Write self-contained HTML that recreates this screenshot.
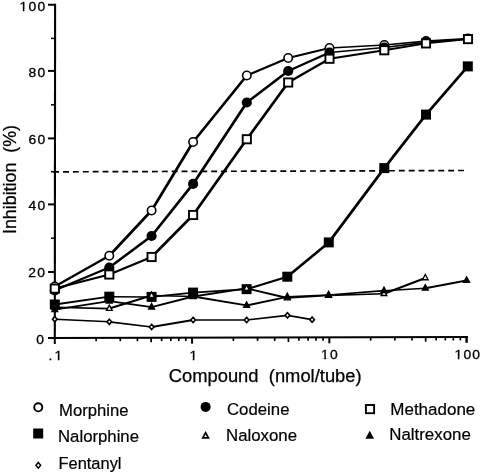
<!DOCTYPE html><html><head><meta charset="utf-8"><title>Inhibition chart</title>
<style>html,body{margin:0;padding:0;background:#fff}svg{display:block}text{font-family:"Liberation Sans",Arial,Helvetica,sans-serif;fill:#000}</style></head><body>
<svg width="480" height="474" viewBox="0 0 480 474">
<rect width="480" height="474" fill="#fff"/>
<g stroke="#000" stroke-width="2" fill="none" stroke-linecap="butt">
<path d="M55.1,3.75 L54.8,339" stroke-width="2.1"/>
<path d="M48,338 L467.9,337" stroke-width="1.85"/>
<path d="M48,338.00 H55"/>
<path d="M48,272.00 H55"/>
<path d="M48,204.40 H55"/>
<path d="M48,138.40 H55"/>
<path d="M48,70.90 H55"/>
<path d="M48,4.75 H55"/>
<path d="M51,305.00 H55" stroke-width="1.5"/>
<path d="M51,238.20 H55" stroke-width="1.5"/>
<path d="M51,171.70 H55" stroke-width="1.5"/>
<path d="M51,104.80 H55" stroke-width="1.5"/>
<path d="M51,38.40 H55" stroke-width="1.5"/>
<path d="M54.80,337.98 V343.98"/>
<path d="M96.12,337.89 V341.29" stroke-width="1.7"/>
<path d="M120.29,337.83 V341.23" stroke-width="1.7"/>
<path d="M137.44,337.79 V341.19" stroke-width="1.7"/>
<path d="M151.15,337.76 V342.36" stroke-width="1.7"/>
<path d="M161.62,337.73 V341.13" stroke-width="1.7"/>
<path d="M170.81,337.71 V341.11" stroke-width="1.7"/>
<path d="M178.77,337.69 V341.09" stroke-width="1.7"/>
<path d="M185.79,337.67 V341.07" stroke-width="1.7"/>
<path d="M192.07,337.66 V343.66"/>
<path d="M233.39,337.56 V340.96" stroke-width="1.7"/>
<path d="M257.56,337.50 V340.90" stroke-width="1.7"/>
<path d="M274.71,337.46 V340.86" stroke-width="1.7"/>
<path d="M288.42,337.43 V342.03" stroke-width="1.7"/>
<path d="M298.89,337.40 V340.80" stroke-width="1.7"/>
<path d="M308.08,337.38 V340.78" stroke-width="1.7"/>
<path d="M316.04,337.36 V340.76" stroke-width="1.7"/>
<path d="M323.06,337.35 V340.75" stroke-width="1.7"/>
<path d="M329.34,337.33 V343.33"/>
<path d="M370.66,337.23 V340.63" stroke-width="1.7"/>
<path d="M394.83,337.17 V340.57" stroke-width="1.7"/>
<path d="M411.98,337.13 V340.53" stroke-width="1.7"/>
<path d="M425.69,337.10 V341.70" stroke-width="1.7"/>
<path d="M436.16,337.08 V340.48" stroke-width="1.7"/>
<path d="M445.35,337.05 V340.45" stroke-width="1.7"/>
<path d="M453.31,337.03 V340.43" stroke-width="1.7"/>
<path d="M460.33,337.02 V340.42" stroke-width="1.7"/>
<path d="M466.61,336.00 V342.80" stroke-width="2.4"/>
</g>
<path d="M53.2,171.85 L464.6,170.5" stroke="#000" stroke-width="1.7" stroke-dasharray="5.9 3.975" fill="none"/>
<g fill="none" stroke="#000" stroke-linecap="round"><path d="M54.80,286.50 L109.30,255.75" stroke-width="2.41"/><path d="M109.30,255.75 L151.60,210.50" stroke-width="2.67"/><path d="M151.60,210.50 L193.10,142.00" stroke-width="2.70"/><path d="M193.10,142.00 L246.80,75.50" stroke-width="2.69"/><path d="M246.80,75.50 L288.20,58.00" stroke-width="2.26"/><path d="M288.20,58.00 L329.50,48.00" stroke-width="1.99"/><path d="M329.50,48.00 L384.30,45.00" stroke-width="1.62"/><path d="M384.30,45.00 L426.00,41.10" stroke-width="1.70"/><path d="M426.00,41.10 L468.00,38.60" stroke-width="1.63"/></g>
<circle cx="54.80" cy="286.50" r="4.2" fill="#fff" stroke="#000" stroke-width="1.6"/><circle cx="109.30" cy="255.75" r="4.2" fill="#fff" stroke="#000" stroke-width="1.6"/><circle cx="151.60" cy="210.50" r="4.2" fill="#fff" stroke="#000" stroke-width="1.6"/><circle cx="193.10" cy="142.00" r="4.2" fill="#fff" stroke="#000" stroke-width="1.6"/><circle cx="246.80" cy="75.50" r="4.2" fill="#fff" stroke="#000" stroke-width="1.6"/><circle cx="288.20" cy="58.00" r="4.2" fill="#fff" stroke="#000" stroke-width="1.6"/><circle cx="329.50" cy="48.00" r="4.2" fill="#fff" stroke="#000" stroke-width="1.6"/><circle cx="384.30" cy="45.00" r="4.2" fill="#fff" stroke="#000" stroke-width="1.6"/><circle cx="426.00" cy="41.10" r="4.2" fill="#fff" stroke="#000" stroke-width="1.6"/><circle cx="468.00" cy="38.60" r="4.2" fill="#fff" stroke="#000" stroke-width="1.6"/>
<g fill="none" stroke="#000" stroke-linecap="round"><path d="M54.80,290.30 L109.30,267.50" stroke-width="2.25"/><path d="M109.30,267.50 L151.60,236.00" stroke-width="2.55"/><path d="M151.60,236.00 L193.10,183.90" stroke-width="2.69"/><path d="M193.10,183.90 L246.80,102.50" stroke-width="2.70"/><path d="M246.80,102.50 L288.20,71.00" stroke-width="2.56"/><path d="M288.20,71.00 L329.50,52.50" stroke-width="2.29"/><path d="M329.50,52.50 L384.30,47.50" stroke-width="1.70"/><path d="M384.30,47.50 L426.00,42.40" stroke-width="1.76"/><path d="M426.00,42.40 L468.00,39.00" stroke-width="1.68"/></g>
<circle cx="54.80" cy="290.30" r="5.1" fill="#000"/><circle cx="109.30" cy="267.50" r="5.1" fill="#000"/><circle cx="151.60" cy="236.00" r="5.1" fill="#000"/><circle cx="193.10" cy="183.90" r="5.1" fill="#000"/><circle cx="246.80" cy="102.50" r="5.1" fill="#000"/><circle cx="288.20" cy="71.00" r="5.1" fill="#000"/><circle cx="329.50" cy="52.50" r="5.1" fill="#000"/><circle cx="384.30" cy="47.50" r="5.1" fill="#000"/><circle cx="426.00" cy="42.40" r="5.1" fill="#000"/><circle cx="468.00" cy="39.00" r="5.1" fill="#000"/>
<g fill="none" stroke="#000" stroke-linecap="round"><path d="M54.80,288.60 L109.30,274.50" stroke-width="2.02"/><path d="M109.30,274.50 L151.60,257.00" stroke-width="2.25"/><path d="M151.60,257.00 L193.10,215.00" stroke-width="2.65"/><path d="M193.10,215.00 L246.80,139.25" stroke-width="2.70"/><path d="M246.80,139.25 L288.20,82.50" stroke-width="2.70"/><path d="M288.20,82.50 L329.50,58.75" stroke-width="2.42"/><path d="M329.50,58.75 L384.30,50.25" stroke-width="1.83"/><path d="M384.30,50.25 L426.00,43.40" stroke-width="1.84"/><path d="M426.00,43.40 L468.00,39.10" stroke-width="1.72"/></g>
<rect x="50.70" y="284.50" width="8.2" height="8.2" fill="#fff" stroke="#000" stroke-width="1.9"/><rect x="105.20" y="270.40" width="8.2" height="8.2" fill="#fff" stroke="#000" stroke-width="1.9"/><rect x="147.50" y="252.90" width="8.2" height="8.2" fill="#fff" stroke="#000" stroke-width="1.9"/><rect x="189.00" y="210.90" width="8.2" height="8.2" fill="#fff" stroke="#000" stroke-width="1.9"/><rect x="242.70" y="135.15" width="8.2" height="8.2" fill="#fff" stroke="#000" stroke-width="1.9"/><rect x="284.10" y="78.40" width="8.2" height="8.2" fill="#fff" stroke="#000" stroke-width="1.9"/><rect x="325.40" y="54.65" width="8.2" height="8.2" fill="#fff" stroke="#000" stroke-width="1.9"/><rect x="380.20" y="46.15" width="8.2" height="8.2" fill="#fff" stroke="#000" stroke-width="1.9"/><rect x="421.90" y="39.30" width="8.2" height="8.2" fill="#fff" stroke="#000" stroke-width="1.9"/><rect x="463.90" y="35.00" width="8.2" height="8.2" fill="#fff" stroke="#000" stroke-width="1.9"/>
<g fill="none" stroke="#000" stroke-linecap="round"><path d="M54.80,319.20 L109.30,321.80" stroke-width="1.61"/><path d="M109.30,321.80 L151.60,327.00" stroke-width="1.76"/><path d="M151.60,327.00 L193.10,320.00" stroke-width="1.85"/><path d="M193.10,320.00 L246.60,320.00" stroke-width="1.50"/><path d="M246.60,320.00 L287.50,315.30" stroke-width="1.75"/><path d="M287.50,315.30 L312.10,319.70" stroke-width="1.87"/></g>
<path d="M54.80,316.55 L57.10,319.20 L54.80,321.85 L52.50,319.20 Z" fill="#fff" stroke="#000" stroke-width="1.6"/><path d="M109.30,319.15 L111.60,321.80 L109.30,324.45 L107.00,321.80 Z" fill="#fff" stroke="#000" stroke-width="1.6"/><path d="M151.60,324.35 L153.90,327.00 L151.60,329.65 L149.30,327.00 Z" fill="#fff" stroke="#000" stroke-width="1.6"/><path d="M193.10,317.35 L195.40,320.00 L193.10,322.65 L190.80,320.00 Z" fill="#fff" stroke="#000" stroke-width="1.6"/><path d="M246.60,317.35 L248.90,320.00 L246.60,322.65 L244.30,320.00 Z" fill="#fff" stroke="#000" stroke-width="1.6"/><path d="M287.50,312.65 L289.80,315.30 L287.50,317.95 L285.20,315.30 Z" fill="#fff" stroke="#000" stroke-width="1.6"/><path d="M312.10,317.05 L314.40,319.70 L312.10,322.35 L309.80,319.70 Z" fill="#fff" stroke="#000" stroke-width="1.6"/>
<g fill="none" stroke="#000" stroke-linecap="round"><path d="M54.80,304.50 L109.30,296.70" stroke-width="1.80"/><path d="M109.30,296.70 L151.60,296.90" stroke-width="1.51"/><path d="M151.60,296.90 L193.10,292.60" stroke-width="1.72"/><path d="M193.10,292.60 L246.60,289.15" stroke-width="1.64"/><path d="M246.60,289.15 L287.30,276.70" stroke-width="2.09"/><path d="M287.30,276.70 L328.80,242.40" stroke-width="2.59"/><path d="M328.80,242.40 L384.30,168.10" stroke-width="2.70"/><path d="M384.30,168.10 L426.00,114.60" stroke-width="2.70"/><path d="M426.00,114.60 L467.80,66.40" stroke-width="2.68"/></g>
<rect x="49.80" y="299.50" width="10" height="10" fill="#000"/><rect x="104.30" y="291.70" width="10" height="10" fill="#000"/><rect x="146.60" y="291.90" width="10" height="10" fill="#000"/><rect x="188.10" y="287.60" width="10" height="10" fill="#000"/><rect x="241.60" y="284.15" width="10" height="10" fill="#000"/><rect x="282.30" y="271.70" width="10" height="10" fill="#000"/><rect x="323.80" y="237.40" width="10" height="10" fill="#000"/><rect x="379.30" y="163.10" width="10" height="10" fill="#000"/><rect x="421.00" y="109.60" width="10" height="10" fill="#000"/><rect x="462.80" y="61.40" width="10" height="10" fill="#000"/>
<g fill="none" stroke="#000" stroke-linecap="round"><path d="M54.80,307.20 L109.30,308.60" stroke-width="1.56"/><path d="M109.30,308.60 L151.60,295.50" stroke-width="2.10"/><path d="M151.60,295.50 L193.10,296.50" stroke-width="1.55"/><path d="M193.10,296.50 L246.60,288.40" stroke-width="1.82"/><path d="M246.60,288.40 L287.30,298.00" stroke-width="1.98"/><path d="M287.30,298.00 L328.60,295.40" stroke-width="1.64"/><path d="M328.60,295.40 L384.00,293.70" stroke-width="1.57"/><path d="M384.00,293.70 L425.30,277.95" stroke-width="2.20"/></g>
<path d="M54.80,303.73 L57.62,309.02 L51.98,309.02 Z" fill="#fff" stroke="#000" stroke-width="1.35" stroke-linejoin="miter" stroke-miterlimit="10"/><path d="M109.30,305.13 L112.12,310.42 L106.48,310.42 Z" fill="#fff" stroke="#000" stroke-width="1.35" stroke-linejoin="miter" stroke-miterlimit="10"/><path d="M151.60,292.03 L154.42,297.32 L148.78,297.32 Z" fill="#fff" stroke="#000" stroke-width="1.35" stroke-linejoin="miter" stroke-miterlimit="10"/><path d="M193.10,293.03 L195.92,298.32 L190.28,298.32 Z" fill="#fff" stroke="#000" stroke-width="1.35" stroke-linejoin="miter" stroke-miterlimit="10"/><path d="M246.60,284.93 L249.42,290.22 L243.78,290.22 Z" fill="#fff" stroke="#000" stroke-width="1.35" stroke-linejoin="miter" stroke-miterlimit="10"/><path d="M287.30,294.53 L290.12,299.82 L284.48,299.82 Z" fill="#fff" stroke="#000" stroke-width="1.35" stroke-linejoin="miter" stroke-miterlimit="10"/><path d="M328.60,291.93 L331.42,297.22 L325.78,297.22 Z" fill="#fff" stroke="#000" stroke-width="1.35" stroke-linejoin="miter" stroke-miterlimit="10"/><path d="M384.00,290.23 L386.82,295.52 L381.18,295.52 Z" fill="#fff" stroke="#000" stroke-width="1.35" stroke-linejoin="miter" stroke-miterlimit="10"/><path d="M425.30,274.48 L428.12,279.77 L422.48,279.77 Z" fill="#fff" stroke="#000" stroke-width="1.35" stroke-linejoin="miter" stroke-miterlimit="10"/>
<g fill="none" stroke="#000" stroke-linecap="round"><path d="M54.80,309.70 L109.30,301.20" stroke-width="1.83"/><path d="M109.30,301.20 L151.60,307.10" stroke-width="1.80"/><path d="M151.60,307.10 L193.10,296.50" stroke-width="2.01"/><path d="M193.10,296.50 L246.60,305.45" stroke-width="1.85"/><path d="M246.60,305.45 L287.30,296.90" stroke-width="1.93"/><path d="M287.30,296.90 L328.60,295.00" stroke-width="1.60"/><path d="M328.60,295.00 L384.00,290.70" stroke-width="1.67"/><path d="M384.00,290.70 L425.30,288.20" stroke-width="1.63"/><path d="M425.30,288.20 L466.60,280.45" stroke-width="1.89"/></g>
<path d="M54.80,304.65 L58.90,312.35 L50.70,312.35 Z" fill="#000"/><path d="M109.30,296.15 L113.40,303.85 L105.20,303.85 Z" fill="#000"/><path d="M151.60,302.05 L155.70,309.75 L147.50,309.75 Z" fill="#000"/><path d="M193.10,291.45 L197.20,299.15 L189.00,299.15 Z" fill="#000"/><path d="M246.60,300.40 L250.70,308.10 L242.50,308.10 Z" fill="#000"/><path d="M287.30,291.85 L291.40,299.55 L283.20,299.55 Z" fill="#000"/><path d="M328.60,289.95 L332.70,297.65 L324.50,297.65 Z" fill="#000"/><path d="M384.00,285.65 L388.10,293.35 L379.90,293.35 Z" fill="#000"/><path d="M425.30,283.15 L429.40,290.85 L421.20,290.85 Z" fill="#000"/><path d="M466.60,275.40 L470.70,283.10 L462.50,283.10 Z" fill="#000"/>
<text transform="scale(1.07,1)" x="18.18 26.59 35.01" y="10.8" font-size="13" stroke="#000" stroke-width="0.3">100</text><rect x="20.06" y="9.50" width="2.72" height="2.6" fill="#fff"/><rect x="24.39" y="9.50" width="2.70" height="2.6" fill="#fff"/>
<text transform="scale(1.07,1)" x="26.59 35.01" y="76.7" font-size="13" stroke="#000" stroke-width="0.3">80</text>
<text transform="scale(1.07,1)" x="26.59 35.01" y="144.1" font-size="13" stroke="#000" stroke-width="0.3">60</text>
<text transform="scale(1.07,1)" x="26.59 35.01" y="210.3" font-size="13" stroke="#000" stroke-width="0.3">40</text>
<text transform="scale(1.07,1)" x="26.31 34.73" y="277.5" font-size="13" stroke="#000" stroke-width="0.3">20</text>
<text transform="scale(1.07,1)" x="33.98" y="343.6" font-size="13" stroke="#000" stroke-width="0.3">0</text>
<text transform="scale(1.07,1)" x="45.42 50.89" y="360.2" font-size="13" stroke="#000" stroke-width="0.3">.1</text><rect x="55.05" y="358.90" width="2.72" height="2.6" fill="#fff"/><rect x="59.38" y="358.90" width="2.70" height="2.6" fill="#fff"/>
<text transform="scale(1.07,1)" x="177.06" y="360" font-size="13" stroke="#000" stroke-width="0.3">1</text><rect x="190.05" y="358.70" width="2.72" height="2.6" fill="#fff"/><rect x="194.38" y="358.70" width="2.70" height="2.6" fill="#fff"/>
<text transform="scale(1.07,1)" x="299.95 308.41" y="359.5" font-size="13" stroke="#000" stroke-width="0.3">10</text><rect x="321.55" y="358.20" width="2.72" height="2.6" fill="#fff"/><rect x="325.88" y="358.20" width="2.70" height="2.6" fill="#fff"/>
<text transform="scale(1.07,1)" x="424.72 433.08 441.40" y="359" font-size="13" stroke="#000" stroke-width="0.3">100</text><rect x="455.05" y="357.70" width="2.72" height="2.6" fill="#fff"/><rect x="459.38" y="357.70" width="2.70" height="2.6" fill="#fff"/>
<text x="168.7" y="382" font-size="17.5" stroke="#000" stroke-width="0.25" textLength="193" lengthAdjust="spacingAndGlyphs" xml:space="preserve">Compound  (nmol/tube)</text>
<text transform="translate(15.8,234) rotate(-90)" font-size="17.5" stroke="#000" stroke-width="0.25" textLength="109" lengthAdjust="spacingAndGlyphs" xml:space="preserve">Inhibition  (%)</text>
<circle cx="38.25" cy="407.30" r="4.05" fill="#fff" stroke="#000" stroke-width="1.9"/>
<text x="59" y="416" font-size="16.3" stroke="#000" stroke-width="0.2" textLength="69.5" lengthAdjust="spacingAndGlyphs">Morphine</text>
<rect x="33.20" y="428.50" width="10" height="10" fill="#000"/>
<text x="58" y="441.5" font-size="16.3" stroke="#000" stroke-width="0.2" textLength="81" lengthAdjust="spacingAndGlyphs">Nalorphine</text>
<path d="M38.30,462.50 L40.65,465.30 L38.30,468.10 L35.95,465.30 Z" fill="#fff" stroke="#000" stroke-width="1.45"/>
<text x="58.5" y="468.5" font-size="16.3" stroke="#000" stroke-width="0.2" textLength="63" lengthAdjust="spacingAndGlyphs">Fentanyl</text>
<circle cx="205.60" cy="406.90" r="5" fill="#000"/>
<text x="227" y="415.3" font-size="16.3" stroke="#000" stroke-width="0.2" textLength="62.5" lengthAdjust="spacingAndGlyphs">Codeine</text>
<path d="M205.60,432.69 L208.43,437.95 L202.77,437.95 Z" fill="#fff" stroke="#000" stroke-width="1.7" stroke-linejoin="miter" stroke-miterlimit="10"/>
<text x="226" y="441" font-size="16.3" stroke="#000" stroke-width="0.2" textLength="71" lengthAdjust="spacingAndGlyphs">Naloxone</text>
<rect x="365.90" y="405.00" width="8.2" height="8.2" fill="#fff" stroke="#000" stroke-width="1.9"/>
<text x="390.3" y="414.5" font-size="16.3" stroke="#000" stroke-width="0.2" textLength="85" lengthAdjust="spacingAndGlyphs">Methadone</text>
<path d="M369.75,430.70 L374.10,438.80 L365.40,438.80 Z" fill="#000"/>
<text x="389.3" y="440.3" font-size="16.3" stroke="#000" stroke-width="0.2" textLength="81.5" lengthAdjust="spacingAndGlyphs">Naltrexone</text>
</svg></body></html>
